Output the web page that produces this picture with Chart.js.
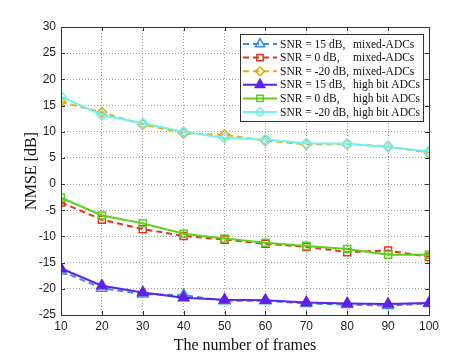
<!DOCTYPE html>
<html><head><meta charset="utf-8">
<script src="https://cdn.jsdelivr.net/npm/chart.js@4/dist/chart.umd.min.js"></script>
<style>html,body{margin:0;padding:0;background:#fff}#wrap{width:474px;height:355px}</style>
</head><body><div id="wrap"><canvas id="c" width="474" height="355"></canvas></div>
<script>
const frames = [10,20,30,40,50,60,70,80,90,100];
const snr15Mixed = [-16.6,-19.9,-21.0,-21.2,-22.3,-22.3,-22.8,-23.0,-23.2,-22.8];
const snr0Mixed  = [-3.5,-6.8,-8.6,-9.9,-10.6,-11.4,-12.0,-13.0,-12.7,-13.9];
const snrm20Mixed= [15.7,13.7,11.4,9.7,9.4,8.3,7.6,7.6,7.2,6.0];
const snr15High  = [-16.1,-19.4,-20.7,-21.7,-22.1,-22.2,-22.6,-22.8,-22.9,-22.7];
const snr0High   = [-2.6,-6.0,-7.5,-9.5,-10.4,-11.2,-11.8,-12.4,-13.5,-13.5];
const snrm20High = [16.7,13.2,11.6,10.0,8.8,8.5,7.8,7.7,7.1,6.2];
const legendLeft = ['SNR = 15 dB,','SNR = 0 dB,','SNR = -20 dB,','SNR = 15 dB,','SNR = 0 dB,','SNR = -20 dB,'];
const legendRight = ['mixed-ADCs','mixed-ADCs','mixed-ADCs','high bit ADCs','high bit ADCs','high bit ADCs'];
const yTicks = [-25,-20,-15,-10,-5,0,5,10,15,20,25,30];

const toXY = arr => arr.map((v,i)=>({x:frames[i], y:v}));
function ds(data,color,style,dashed,filled,order){
  return {data:toXY(data),borderColor:color,backgroundColor:filled?color:'rgba(0,0,0,0)',
    pointBackgroundColor:filled?color:'rgba(255,255,255,0)',pointBorderColor:color,
    pointStyle:style,pointRadius:style==='triangle'?6:5,pointBorderWidth:1.5,borderWidth:2,
    borderDash:dashed?[6,4]:[],order:order,tension:0,fill:false};
}
const datasets = [
  ds(snr15Mixed,'#3a8cf0','triangle',true,false,2),
  ds(snr0Mixed,'#e0351e','rect',true,false,2),
  ds(snrm20Mixed,'#e8aa10','rectRot',true,false,2),
  ds(snr15High,'#6020e8','triangle',false,true,1),
  ds(snr0High,'#5ccf18','rect',false,false,1),
  ds(snrm20High,'#6ff0f2','rectRot',false,false,1)
];

const boxPlugin = {
  id:'box',
  afterDraw(chart){
    const {ctx, chartArea:a, scales} = chart;
    ctx.save();
    ctx.strokeStyle='#333'; ctx.lineWidth=1; ctx.setLineDash([]);
    ctx.strokeRect(Math.round(a.left)+0.5, Math.round(a.top)+0.5, Math.round(a.right-a.left), Math.round(a.bottom-a.top));
    ctx.beginPath();
    frames.forEach(f=>{const x=Math.round(scales.x.getPixelForValue(f))+0.5;
      ctx.moveTo(x,a.bottom);ctx.lineTo(x,a.bottom-4);ctx.moveTo(x,a.top);ctx.lineTo(x,a.top+4);});
    yTicks.forEach(t=>{const y=Math.round(scales.y.getPixelForValue(t))+0.5;
      ctx.moveTo(a.left,y);ctx.lineTo(a.left+4,y);ctx.moveTo(a.right,y);ctx.lineTo(a.right-4,y);});
    ctx.stroke();
    const L=240, T=34, W=183, H=87, rowH=13.6;
    ctx.fillStyle='#fff'; ctx.fillRect(L,T,W,H);
    ctx.strokeStyle='#333'; ctx.strokeRect(L+0.5,T+0.5,W,H);
    ctx.font='11.5px "Liberation Serif", "DejaVu Serif", serif';
    ctx.textBaseline='middle'; ctx.textAlign='left';
    datasets.forEach((d,i)=>{
      const y = T+10+i*rowH;
      ctx.strokeStyle=d.borderColor; ctx.lineWidth=2; ctx.setLineDash(d.borderDash);
      ctx.beginPath(); ctx.moveTo(L+3,y); ctx.lineTo(L+37,y); ctx.stroke();
      ctx.setLineDash([]);
      ctx.lineWidth=1.5; ctx.fillStyle=d.pointBackgroundColor; ctx.strokeStyle=d.borderColor;
      if (Chart.helpers && Chart.helpers.drawPoint){
        Chart.helpers.drawPoint(ctx,{pointStyle:d.pointStyle,radius:d.pointRadius-0.5,borderWidth:1.5,rotation:0},L+20,y);
      }
      ctx.fillStyle='#111';
      ctx.fillText(legendLeft[i], L+40, y+0.5);
      ctx.fillText(legendRight[i], L+113, y+0.5);
    });
    ctx.restore();
  }
};

new Chart(document.getElementById('c'),{
  type:'line',
  data:{datasets},
  options:{
    responsive:false, animation:false, devicePixelRatio:1,
    layout:{padding:{left:22,right:45,top:27,bottom:0}},
    plugins:{legend:{display:false},tooltip:{enabled:false}},
    scales:{
      x:{type:'linear',min:10,max:100,
        afterBuildTicks:s=>{s.ticks=frames.map(v=>({value:v}));},
        ticks:{padding:4,color:'#222',font:{family:'"Liberation Sans", Arial, sans-serif',size:12}},
        grid:{color:'#a0a0a0',lineWidth:1,drawTicks:false},
        border:{display:false,dash:[1,2]},
        title:{display:true,text:'The number of frames',color:'#111',padding:{top:0,bottom:0},
          font:{family:'"Liberation Serif", "DejaVu Serif", serif',size:16}},
        afterFit:s=>{s.height=40;}
      },
      y:{type:'linear',min:-25,max:30,
        afterBuildTicks:s=>{s.ticks=yTicks.map(v=>({value:v}));},
        ticks:{padding:5,color:'#222',font:{family:'"Liberation Sans", Arial, sans-serif',size:12}},
        grid:{color:'#a0a0a0',lineWidth:1,drawTicks:false},
        border:{display:false,dash:[1,2]},
        title:{display:true,text:'NMSE [dB]',color:'#111',padding:{top:0,bottom:0},
          font:{family:'"Liberation Serif", "DejaVu Serif", serif',size:16}},
        afterFit:s=>{s.width=39;}
      }
    }
  },
  plugins:[boxPlugin]
});
</script></body></html>
